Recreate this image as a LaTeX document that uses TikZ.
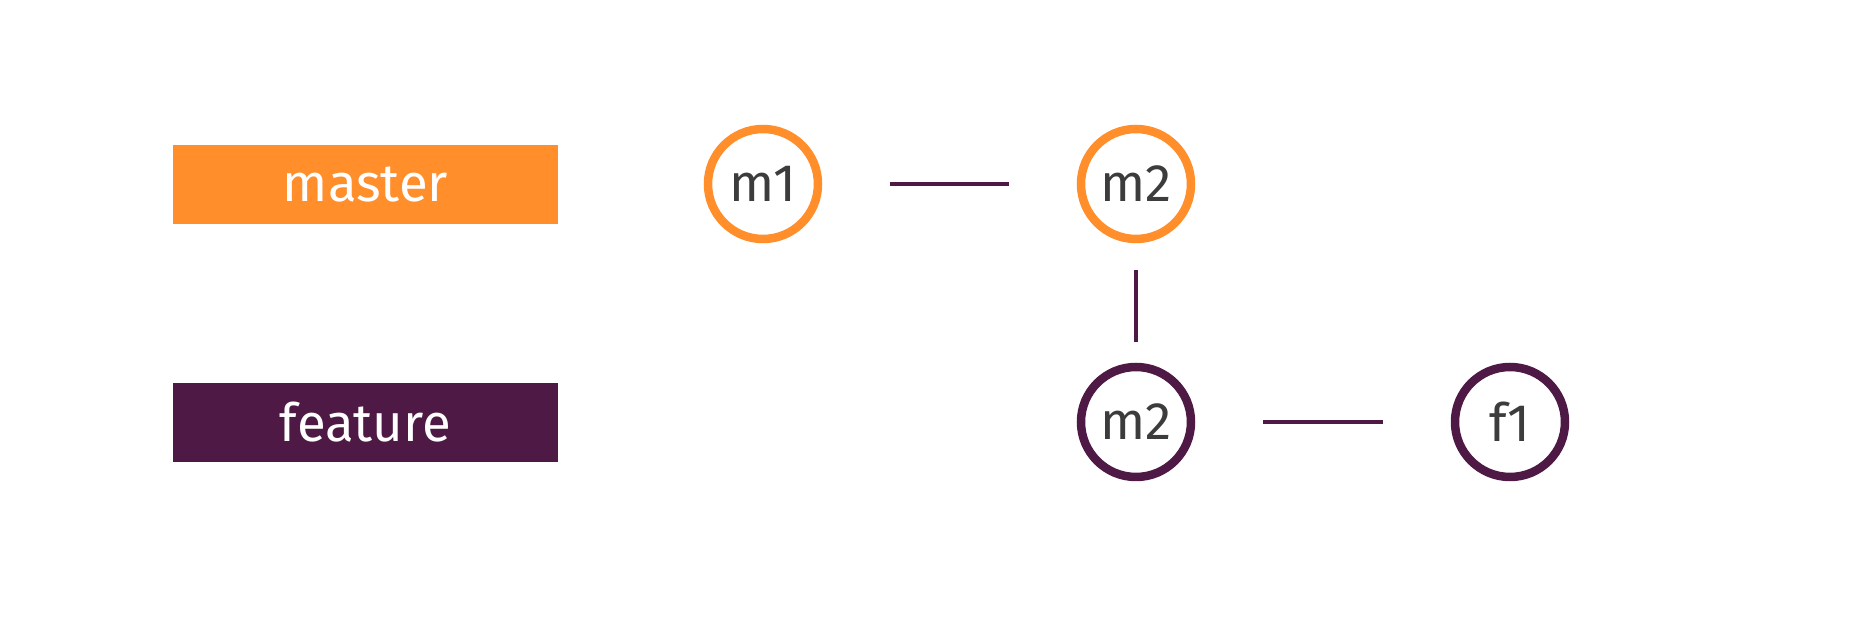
\documentclass[tikz,border=0pt]{standalone}
\usepackage{fontspec}
\setmainfont{Fira Sans}
\usepackage{tikz}
\usetikzlibrary{calc,backgrounds}
\definecolor{gitorange}{RGB}{255,142,43}
\definecolor{gitpurple}{RGB}{78,26,69}
\definecolor{gittext}{RGB}{60,60,60}
\tikzset{
  commit/.style={circle, draw=#1, line width=0.85mm, minimum size=11mm, inner sep=0pt, fill=white, text=gittext, font=\fontsize{15}{17}\selectfont},
  branch/.style={rectangle, fill=#1, minimum width=38.5mm, minimum height=7.9mm, inner sep=0pt, text=white, font=\fontsize{15}{17}\selectfont},
  link/.style={draw=gitpurple, line width=0.42mm}
}
\begin{document}
\begin{tikzpicture}[x=0.1mm,y=0.1mm]
    \useasboundingbox (0,0) rectangle (1850,643);
    % branch labels
    \node[branch=gitorange] (master) at (365.5,458.5) {master};
    \node[branch=gitpurple] (feature) at (365.5,220.5) {feature};
    % commits
    \node[commit=gitorange] (m1) at (763,459) {m1};
    \node[commit=gitorange] (m2) at (1136,459) {m2};
    \node[commit=gitpurple] (m2f) at (1136,221) {m2};
    \node[commit=gitpurple] (f1) at (1510,221) {f1};

    \draw[link, shorten <=6.8mm, shorten >=6.8mm] (m1) -- (m2);
    \draw[link, shorten <=2.7mm, shorten >=2.1mm] (m2) -- (m2f);
    \draw[link, shorten <=6.8mm, shorten >=6.8mm] (m2f) -- (f1);
\end{tikzpicture}
\end{document}
